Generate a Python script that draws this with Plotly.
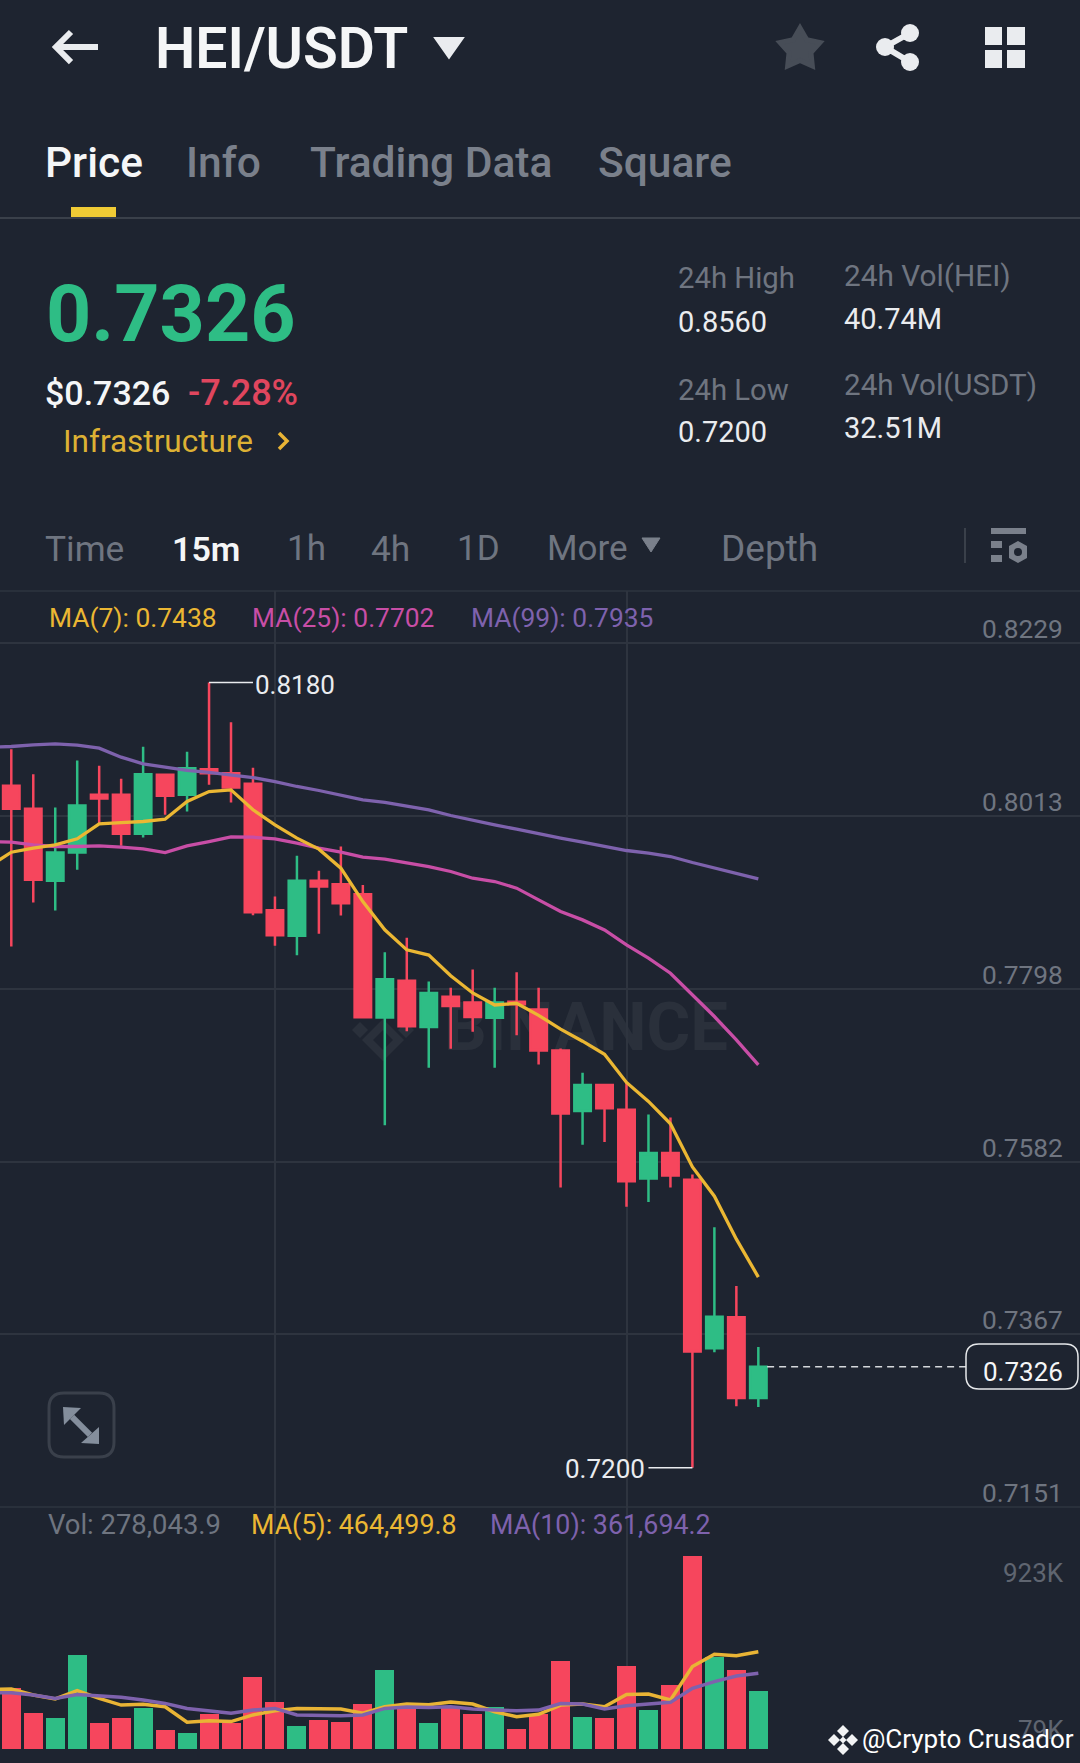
import math
import plotly.graph_objects as go

W, H = 1080, 1763
BG = "#1E2430"
GRID = "#2E343F"
RED = "#F6465D"
GREEN = "#2EBD85"
YEL = "#EBB733"
PINK = "#C84EA6"
PUR = "#7E62AD"
GREY = "#7A808B"
DIM = "#6F7580"
WHITE = "#EAECEF"
FONT = "Roboto"

# ---------- data ----------
candle_index = list(range(35))
opens = [.80511, .80224, .79325, .79679, .80399, .80399, .79912, .80648, .80399, .80719,
         .80669, .80536, .78959, .78639, .79325, .79284, .79159, .77619, .78077, .77501,
         .77879, .77806, .77617, .77815, .77720, .77208, .76452, .76778, .76469, .75609,
         .75927, .75596, .73490, .73877, .72871]
highs = [.80969, .80657, .80241, .80827, .80761, .80599, .81000, .80657, .80936, .8180,
         .81306, .80736, .79130, .79637, .79450, .79754, .79275, .78435, .78614, .78068,
         .77991, .78219, .77991, .78184, .77991, .77234, .76929, .76787, .76809, .76409,
         .76370, .75661, .75003, .74268, .73507]
lows = [.78506, .79055, .78955, .79463, .80037, .79762, .79866, .80149, .80191, .80524,
        .80303, .78897, .78514, .78398, .78664, .78893, .77623, .76275, .77449, .76993,
        .77230, .77441, .76993, .77398, .77032, .75497, .76030, .76065, .75257, .75317,
        .75497, .7200, .73443, .72767, .72759]
closes = [.80224, .79338, .79679, .80266, .80353, .79912, .80657, .80386, .80732, .80669,
          .80490, .78934, .78647, .79325, .79254, .79047, .77623, .78098, .77509, .77926,
          .77763, .77625, .77806, .77784, .77208, .76422, .76778, .76486, .75575, .75927,
          .75648, .73451, .73885, .72871, .7326]
volumes = [290000, 174000, 147000, 449000, 126000, 147000, 198000, 91000, 78000, 167000,
           126000, 343000, 225000, 111000, 140000, 128000, 217000, 378000, 202000, 126000,
           202000, 166000, 199000, 96000, 166000, 422000, 152000, 148000, 395000, 186000,
           304000, 925000, 441000, 378000, 278044]

ma_index = list(range(-1, 35))
ma7 = [.79504, .79683, .79733, .79775, .79850, .80037, .80053, .80066, .80095, .80316,
       .80440, .80461, .80212, .80024, .79858, .79721, .79483, .79067, .78714, .78464,
       .78399, .78141, .77926, .77776, .77797, .77647, .77475, .77324, .77161, .76809,
       .76572, .76293, .75755, .75390, .74853, .74380]
ma25 = [.79816, .79808, .79775, .79754, .79754, .79762, .79745, .79725, .79679, .79762,
        .79816, .79874, .79870, .79849, .79795, .79733, .79683, .79621, .79596, .79546,
        .79504, .79442, .79358, .79317, .79234, .79088, .78942, .78838, .78713, .78526,
        .78360, .78172, .77902, .77632, .77340, .77028]
ma99 = [.80994, .81002, .81023, .81035, .81019, .80981, .80869, .80786, .80744, .80703,
        .80678, .80648, .80615, .80565, .80503, .80453, .80399, .80336, .80305, .80261,
        .80211, .80141, .80078, .80024, .79970, .79912, .79858, .79808, .79754, .79704,
        .79670, .79629, .79554, .79483, .79421, .79350]
vol_ma5 = [285000, 287000, 258000, 239000, 279000, 242000, 210000, 214000, 202000, 128000,
           135000, 131000, 163000, 183000, 194000, 191000, 191000, 171000, 202000, 215000,
           212000, 225000, 215000, 178000, 154000, 166000, 210000, 215000, 202000, 261000,
           263000, 234000, 394000, 453000, 446000, 464500]
vol_ma10 = [269000, 269000, 258000, 242000, 261000, 253000, 247000, 234000, 218000, 194000,
            182000, 171000, 186000, 194000, 163000, 159000, 159000, 163000, 194000, 201000,
            199000, 202000, 191000, 186000, 183000, 186000, 217000, 215000, 191000, 207000,
            215000, 223000, 290000, 322000, 349000, 361694]

price_ticks = [0.8229, 0.8013, 0.7798, 0.7582, 0.7367, 0.7151]
price_labels = ["0.8229", "0.8013", "0.7798", "0.7582", "0.7367", "0.7151"]
last_price = 0.7326
session_high = 0.8180
session_low = 0.7200
high_index = 9
low_index = 31
time_grid = [12, 28]
# -----------------------------------------------

def px(x):
    return x / W
def py(y):
    return 1 - y / H
def P(x, y):
    return f"{px(x):.5f},{py(y):.5f}"

shapes, annos = [], []

def text(s, x, y, size, color, anchor="left", weight=400, family=FONT, va="middle"):
    annos.append(dict(text=s, x=px(x), y=py(y), xref="paper", yref="paper", showarrow=False,
                      xanchor=anchor, yanchor=va, font=dict(size=size, color=color, family=family, weight=weight),
                      borderpad=0, borderwidth=0))

def path(pts, fill=None, color=None, width=0, close=True, layer="above"):
    d = "M " + " L ".join(P(a, b) for a, b in pts) + (" Z" if close else "")
    shapes.append(dict(type="path", xref="paper", yref="paper", path=d, layer=layer,
                       fillcolor=fill if fill else "rgba(0,0,0,0)",
                       line=dict(color=color if color else "rgba(0,0,0,0)", width=width)))

def hline(y, color=GRID, width=1.5, x0=0, x1=W):
    shapes.append(dict(type="line", xref="paper", yref="paper", x0=px(x0), x1=px(x1), y0=py(y), y1=py(y),
                       line=dict(color=color, width=width), layer="below"))

def rect(x0, y0, x1, y1, fill):
    shapes.append(dict(type="rect", xref="paper", yref="paper", x0=px(x0), x1=px(x1), y0=py(y0), y1=py(y1),
                       fillcolor=fill, line=dict(width=0)))

def circle(cx, cy, r, fill):
    shapes.append(dict(type="circle", xref="paper", yref="paper", x0=px(cx - r), x1=px(cx + r),
                       y0=py(cy - r), y1=py(cy + r), fillcolor=fill, line=dict(width=0)))

def rrect(x0, y0, x1, y1, r, color, width, fill=None):
    d = (f"M {P(x0 + r, y0)} L {P(x1 - r, y0)} Q {P(x1, y0)} {P(x1, y0 + r)} L {P(x1, y1 - r)} "
         f"Q {P(x1, y1)} {P(x1 - r, y1)} L {P(x0 + r, y1)} Q {P(x0, y1)} {P(x0, y1 - r)} "
         f"L {P(x0, y0 + r)} Q {P(x0, y0)} {P(x0 + r, y0)} Z")
    shapes.append(dict(type="path", xref="paper", yref="paper", path=d,
                       fillcolor=fill if fill else "rgba(0,0,0,0)", line=dict(color=color, width=width)))

def diamond(cx, cy, r, fill, layer="above"):
    path([(cx, cy - r), (cx + r, cy), (cx, cy + r), (cx - r, cy)], fill=fill, layer=layer)

# ---------- header ----------
path([(56, 47), (98, 47)], color=WHITE, width=6, close=False)
path([(71, 32), (56, 47), (71, 62)], color=WHITE, width=6, close=False)
text("HEI/USDT", 155, 49, 57, "#F5F6F7", weight=600)
path([(437, 39), (461, 39), (449, 56)], fill=WHITE, color=WHITE, width=4)
# star
star = []
for k in range(10):
    r = 21 if k % 2 == 0 else 11.5
    a = -math.pi / 2 + k * math.pi / 5
    star.append((800 + r * math.cos(a), 49 + r * math.sin(a)))
path(star, fill="#474D57", color="#474D57", width=5)
# share
path([(910, 33), (885, 47), (910, 62)], color=WHITE, width=6, close=False)
circle(910, 33, 9, WHITE)
circle(885, 47, 9, WHITE)
circle(910, 62, 9, WHITE)
# grid icon
rect(985, 27, 1002, 45, WHITE)
rect(1007, 27, 1025, 45, WHITE)
rect(985, 50, 1002, 68, WHITE)
rect(1007, 50, 1025, 68, WHITE)

# ---------- tabs ----------
text("Price", 45, 163, 42.5, "#F5F6F7", weight=500)
text("Info", 186, 163, 42.5, GREY, weight=500)
text("Trading Data", 310, 163, 42.5, GREY, weight=500)
text("Square", 598, 163, 42.5, GREY, weight=500)
rect(71, 207, 116, 217, "#F0CB35")
hline(218, color="#3A404A", width=2)

# ---------- price block ----------
text("0.7326", 46, 314, 79, GREEN, weight=700)
text("$0.7326", 45, 393, 34, "#F5F6F7", weight=500)
text("-7.28%", 188, 393, 36, "#E0465E", weight=500)
text("Infrastructure", 63, 441, 31.5, "#DDB134")
path([(279, 433), (287, 441), (279, 449)], color="#E9B435", width=3.5, close=False)

text("24h High", 678, 278, 29.3, DIM)
text("0.8560", 678, 322, 29, WHITE)
text("24h Low", 678, 390, 29.3, DIM)
text("0.7200", 678, 432, 29, WHITE)
text("24h Vol(HEI)", 844, 276, 29.8, DIM)
text("40.74M", 844, 319, 29, WHITE)
text("24h Vol(USDT)", 844, 385, 29.6, DIM)
text("32.51M", 844, 428, 29, WHITE)

# ---------- interval row ----------
text("Time", 45, 549, 35.3, DIM)
text("15m", 172, 549, 34, "#F5F6F7", weight=600)
text("1h", 287, 549, 35, DIM)
text("4h", 371, 549, 35.3, DIM)
text("1D", 457, 549, 35, DIM)
text("More", 547, 549, 35, DIM)
path([(642, 538), (660, 538), (651, 552)], fill=GREY, color=GREY, width=1)
text("Depth", 721, 549, 37, DIM)
shapes.append(dict(type="line", xref="paper", yref="paper", x0=px(965), x1=px(965), y0=py(528), y1=py(563),
                   line=dict(color="#3A404A", width=2)))
rect(991, 528, 1026, 534, GREY)
rect(991, 541, 1002, 548, GREY)
rect(991, 555, 1002, 562, GREY)
path([(1018, 541), (1027, 546), (1027, 558), (1018, 563), (1009, 558), (1009, 546)], fill=GREY)
circle(1018, 552, 4, BG)

hline(591)
text("MA(7): 0.7438", 49, 618, 26.4, YEL)
text("MA(25): 0.7702", 252, 618, 26.4, PINK)
text("MA(99): 0.7935", 471, 618, 26.4, PUR)

# ---------- watermark behind the candles ----------
shapes.append(dict(type="rect", xref="paper", yref="paper", x0=px(436), x1=px(736), y0=py(996), y1=py(1048),
                   layer="below", fillcolor="rgba(0,0,0,0)", line=dict(width=0),
                   label=dict(text="BINANCE", textposition="middle center",
                              font=dict(size=67, color="#2A303B", family=FONT, weight=700))))
diamond(383, 1040, 21, "#2A303B", layer="below")
diamond(383, 1040, 10, BG, layer="below")
diamond(360, 1030, 8, "#2A303B", layer="below")
diamond(406, 1030, 8, "#2A303B", layer="below")

# ---------- price axis labels ----------
for val, lab in zip(price_ticks, price_labels):
    annos.append(dict(text=lab, x=px(1065), y=val, xref="paper", yref="y", showarrow=False, xanchor="right",
                      yanchor="middle", yshift=14, font=dict(size=26.3, color=DIM, family=FONT)))

# high / low call-outs
shapes.append(dict(type="line", xref="x", yref="y", x0=high_index, x1=high_index + 2, y0=session_high,
                   y1=session_high, line=dict(color=WHITE, width=1.5)))
annos.append(dict(text=f"{session_high:.4f}", x=high_index + 2, y=session_high, xref="x", yref="y", showarrow=False,
                  xanchor="left", yanchor="middle", xshift=0, yshift=-2, font=dict(size=26, color=WHITE, family=FONT)))
shapes.append(dict(type="line", xref="x", yref="y", x0=low_index - 2, x1=low_index, y0=session_low,
                   y1=session_low, line=dict(color=WHITE, width=1.5)))
annos.append(dict(text=f"{session_low:.4f}", x=low_index - 2, y=session_low, xref="x", yref="y", showarrow=False,
                  xanchor="right", yanchor="middle", xshift=-1, yshift=-1, font=dict(size=26, color=WHITE, family=FONT)))

# last price
shapes.append(dict(type="line", xref="x", yref="y", x0=34.4, x1=43.5, y0=last_price, y1=last_price,
                   line=dict(color="#D5D8DC", width=1.5, dash="7px,5px")))
rrect(966, 1344, 1078, 1389, 13, "#E6E8EA", 1.5, fill=BG)
text(f"{last_price:.4f}", 1063, 1372, 26, "#F5F6F7", anchor="right")

# expand button
rrect(49, 1393, 114, 1457, 15, "#3A404B", 3)
path([(63, 1407), (81, 1408), (64, 1425)], fill="#848E9C")
path([(99, 1427), (99, 1444), (81, 1443)], fill="#848E9C")
path([(72, 1417), (90, 1435)], color="#848E9C", width=6, close=False)

# ---------- volume texts ----------
hline(1507)
text("Vol: 278,043.9", 48, 1525, 27.4, DIM)
text("MA(5): 464,499.8", 251, 1525, 26.8, YEL)
text("MA(10): 361,694.2", 490, 1525, 26.8, PUR)
text("923K", 1064, 1573, 26, "#5F6570", anchor="right")
text("79K", 1064, 1730, 26, "#5F6570", anchor="right")
# credit
for cx, cy, r in [(843, 1731, 6), (843, 1749, 6), (834, 1740, 6), (852, 1740, 6)]:
    diamond(cx, cy, r, "#F2F3F4")
diamond(843, 1740, 3.5, "#F2F3F4")
text("@Crypto Crusador", 862, 1739, 26, "#FFFFFF")

# ---------- traces ----------
vol_colors = [GREEN if c >= o else RED for o, c in zip(opens, closes)]
fig = go.Figure()
fig.add_trace(go.Candlestick(x=candle_index, open=opens, high=highs, low=lows, close=closes,
                             increasing=dict(line=dict(color=GREEN, width=2.5), fillcolor=GREEN),
                             decreasing=dict(line=dict(color=RED, width=2.5), fillcolor=RED),
                             whiskerwidth=0, xaxis="x", yaxis="y", showlegend=False))
for name, vals, col in [("MA(99)", ma99, PUR), ("MA(25)", ma25, PINK), ("MA(7)", ma7, YEL)]:
    fig.add_trace(go.Scatter(x=ma_index, y=vals, mode="lines", name=name, showlegend=False,
                             line=dict(color=col, width=3.3), xaxis="x", yaxis="y"))
fig.add_trace(go.Bar(x=candle_index, y=volumes, marker=dict(color=vol_colors, line=dict(width=0)), width=0.865,
                     xaxis="x2", yaxis="y2", showlegend=False))
for name, vals, col in [("MA(5)", vol_ma5, "#E9B435"), ("MA(10)", vol_ma10, PUR)]:
    fig.add_trace(go.Scatter(x=ma_index, y=vals, mode="lines", name=name, showlegend=False,
                             line=dict(color=col, width=3.5), xaxis="x2", yaxis="y2"))

x_range = [-0.514, 48.64]
x_common = dict(range=x_range, tickvals=time_grid, showticklabels=False, showgrid=True, gridcolor=GRID, gridwidth=1.5,
                zeroline=False, showline=False, ticks="", rangeslider=dict(visible=False), domain=[0, 1])
fig.update_layout(
    width=W, height=H, margin=dict(l=0, r=0, t=0, b=0), autosize=False,
    paper_bgcolor=BG, plot_bgcolor=BG, showlegend=False, hovermode=False,
    boxgap=0.25, boxgroupgap=0, bargap=0,
    xaxis=dict(anchor="y", **x_common),
    xaxis2=dict(anchor="y2", **x_common),
    yaxis=dict(domain=[py(1507), py(591)], range=[0.7151, 0.82943], tickvals=price_ticks, showticklabels=False,
               showgrid=True, gridcolor=GRID, gridwidth=1.5, zeroline=False, ticks=""),
    yaxis2=dict(domain=[py(1749), py(1507)], range=[0, 1157000], tickvals=[0], showticklabels=False,
                showgrid=True, gridcolor=GRID, gridwidth=1.5, zeroline=False, ticks=""),
    shapes=shapes, annotations=annos,
)
fig.write_html("out.html", config=dict(displayModeBar=False),
               post_script="document.body.style.margin='0';document.body.style.background='%s';" % BG)
